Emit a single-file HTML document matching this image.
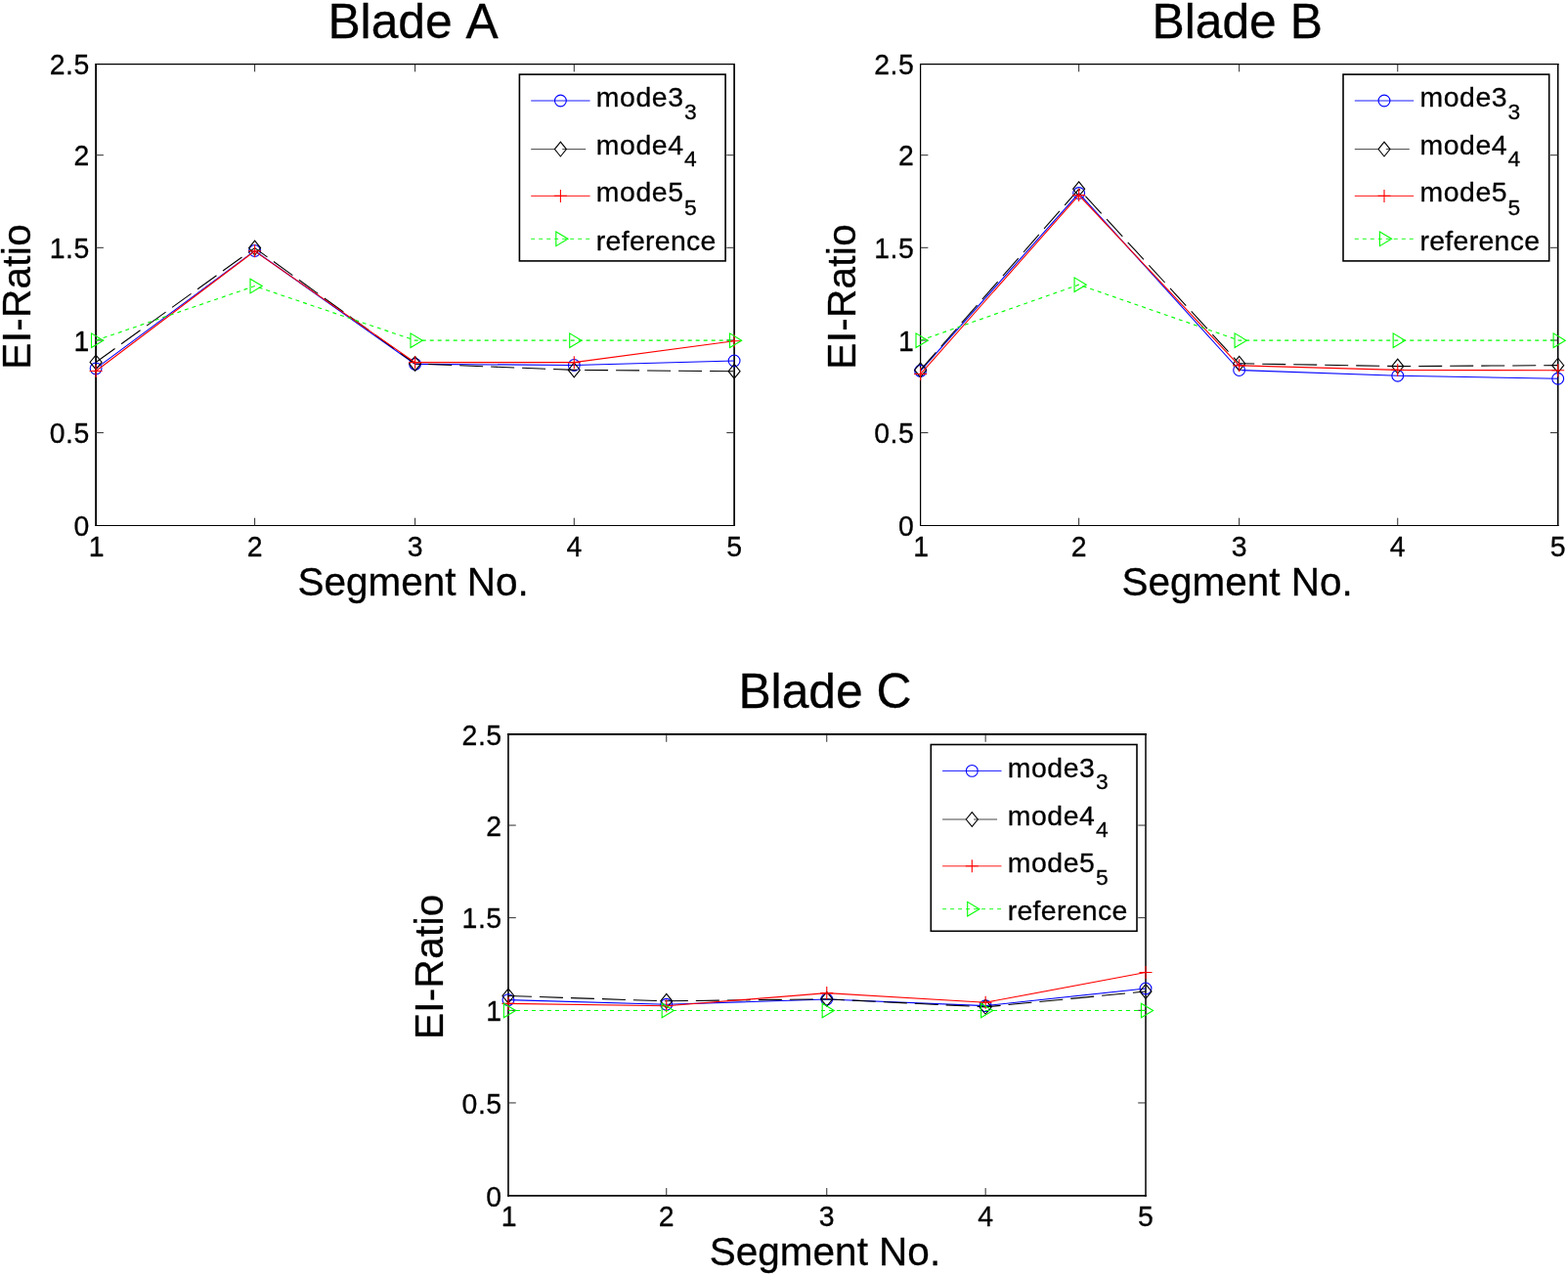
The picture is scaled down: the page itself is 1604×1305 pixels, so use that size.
<!DOCTYPE html>
<html lang="en">
<head>
<meta charset="utf-8">
<title>EI-Ratio per segment: Blade A, Blade B, Blade C</title>
<style>
html,body{margin:0;padding:0;background:#fff;}
body{width:1604px;height:1305px;overflow:hidden;}
svg{display:block;}
svg text{font-family:"Liberation Sans", Arial, Helvetica, sans-serif;fill:#000;stroke:#000;stroke-width:0.3px;stroke-linejoin:round;font-kerning:none;font-variant-ligatures:none;}
</style>
</head>
<body>
<svg width="1604" height="1305" viewBox="0 0 1604 1305">
<rect x="0" y="0" width="1604" height="1305" fill="#fff"/>
<g class="chart">
<text class="title" transform="translate(422.6 38.5) scale(1 1.020)" text-anchor="middle" font-size="49.8">Blade A</text>
<text class="xlabel" transform="translate(422.6 608.7) scale(1 1.010)" text-anchor="middle" font-size="40.5">Segment No.</text>
<text class="ylabel" transform="translate(31 303.35) rotate(-90) scale(1 1.010)" text-anchor="middle" font-size="40.5" letter-spacing="0.3">EI-Ratio</text>
<text transform="translate(98.7 569.1) scale(1 1.055)" text-anchor="middle" font-size="28.4">1</text>
<text transform="translate(260.6 569.1) scale(1 1.055)" text-anchor="middle" font-size="28.4">2</text>
<text transform="translate(424.6 569.1) scale(1 1.055)" text-anchor="middle" font-size="28.4">3</text>
<text transform="translate(587.3 569.1) scale(1 1.055)" text-anchor="middle" font-size="28.4">4</text>
<text transform="translate(751.1 569.1) scale(1 1.055)" text-anchor="middle" font-size="28.4">5</text>
<text transform="translate(91.3 548.2) scale(1 1.055)" text-anchor="end" font-size="28.4">0</text>
<text transform="translate(91.85 453.3) scale(1 1.055)" text-anchor="end" font-size="28.4" letter-spacing="0.55">0.5</text>
<text transform="translate(91.3 358.7) scale(1 1.055)" text-anchor="end" font-size="28.4">1</text>
<text transform="translate(91.85 264) scale(1 1.055)" text-anchor="end" font-size="28.4" letter-spacing="0.55">1.5</text>
<text transform="translate(91.3 169.4) scale(1 1.055)" text-anchor="end" font-size="28.4">2</text>
<text transform="translate(91.85 76.3) scale(1 1.055)" text-anchor="end" font-size="28.4" letter-spacing="0.55">2.5</text>
<path d="M98.1 64.97V538.08" fill="none" stroke="#000" stroke-width="1.8"/>
<path d="M751.1 64.97V538.08" fill="none" stroke="#000" stroke-width="1.7"/>
<path d="M97.2 65.6H751.95" fill="none" stroke="#000" stroke-width="1.25"/>
<path d="M97.2 537.5H751.95" fill="none" stroke="#000" stroke-width="1.15"/>
<path d="M260.6 537.5v-7.8M260.6 65.6v7.8M424.6 537.5v-7.8M424.6 65.6v7.8M587.3 537.5v-7.8M587.3 65.6v7.8M98.1 442.6h7.8M751.1 442.6h-7.8M98.1 348h7.8M751.1 348h-7.8M98.1 253.3h7.8M751.1 253.3h-7.8M98.1 158.7h7.8M751.1 158.7h-7.8" fill="none" stroke="#2b2b2b" stroke-width="1"/>
<path d="M98.1 376.87L260.6 256.44L424.6 372.34L587.3 373.47L751.1 368.94" fill="none" stroke="#0000ff" stroke-width="1.1"/>
<circle cx="98.1" cy="376.87" r="5.9" fill="none" stroke="#0000ff" stroke-width="1.1"/>
<circle cx="260.6" cy="256.44" r="5.9" fill="none" stroke="#0000ff" stroke-width="1.1"/>
<circle cx="424.6" cy="372.34" r="5.9" fill="none" stroke="#0000ff" stroke-width="1.1"/>
<circle cx="587.3" cy="373.47" r="5.9" fill="none" stroke="#0000ff" stroke-width="1.1"/>
<circle cx="751.1" cy="368.94" r="5.9" fill="none" stroke="#0000ff" stroke-width="1.1"/>
<path d="M98.1 370.45L260.6 253.6L424.6 371.96L587.3 378.38L751.1 379.7" fill="none" stroke="#000000" stroke-width="1.1" stroke-dasharray="24 8"/>
<path d="M98.1 363.05L104.1 370.45L98.1 377.85L92.1 370.45Z" fill="none" stroke="#000000" stroke-width="1.1"/>
<path d="M260.6 246.2L266.6 253.6L260.6 261L254.6 253.6Z" fill="none" stroke="#000000" stroke-width="1.1"/>
<path d="M424.6 364.56L430.6 371.96L424.6 379.36L418.6 371.96Z" fill="none" stroke="#000000" stroke-width="1.1"/>
<path d="M587.3 370.98L593.3 378.38L587.3 385.78L581.3 378.38Z" fill="none" stroke="#000000" stroke-width="1.1"/>
<path d="M751.1 372.3L757.1 379.7L751.1 387.1L745.1 379.7Z" fill="none" stroke="#000000" stroke-width="1.1"/>
<path d="M98.1 379.51L260.6 256.81L424.6 370.64L587.3 370.64L751.1 348.74" fill="none" stroke="#ff0000" stroke-width="1.1"/>
<path d="M91.6 379.51H104.6M98.1 373.01V386.01" fill="none" stroke="#ff0000" stroke-width="1.1"/>
<path d="M254.1 256.81H267.1M260.6 250.31V263.31" fill="none" stroke="#ff0000" stroke-width="1.1"/>
<path d="M418.1 370.64H431.1M424.6 364.14V377.14" fill="none" stroke="#ff0000" stroke-width="1.1"/>
<path d="M580.8 370.64H593.8M587.3 364.14V377.14" fill="none" stroke="#ff0000" stroke-width="1.1"/>
<path d="M744.6 348.74H757.6M751.1 342.24V355.24" fill="none" stroke="#ff0000" stroke-width="1.1"/>
<path d="M98.1 348.17L260.6 292.58L424.6 348.17L587.3 348.17L751.1 348.17" fill="none" stroke="#00ff00" stroke-width="1.1" stroke-dasharray="4 4"/>
<path d="M93.5 340.87L105.7 348.17L93.5 355.47Z" fill="none" stroke="#00ff00" stroke-width="1.1"/>
<path d="M256 285.28L268.2 292.58L256 299.88Z" fill="none" stroke="#00ff00" stroke-width="1.1"/>
<path d="M420 340.87L432.2 348.17L420 355.47Z" fill="none" stroke="#00ff00" stroke-width="1.1"/>
<path d="M582.7 340.87L594.9 348.17L582.7 355.47Z" fill="none" stroke="#00ff00" stroke-width="1.1"/>
<path d="M746.5 340.87L758.7 348.17L746.5 355.47Z" fill="none" stroke="#00ff00" stroke-width="1.1"/>
<rect x="531.4" y="76.1" width="210.7" height="190.8" fill="#fff" stroke="#000" stroke-width="1.6"/>
<path d="M543.2 103H603.6" fill="none" stroke="#0000ff" stroke-width="0.9"/>
<circle cx="573.4" cy="103" r="5.9" fill="none" stroke="#0000ff" stroke-width="1.1"/>
<text x="609.8" y="109.3" font-size="28.4" letter-spacing="0.6">mode3<tspan dx="0.4" dy="12.7" font-size="22.8">3</tspan></text>
<path d="M543.2 152.6H603.6" fill="none" stroke="#333" stroke-width="0.9" stroke-dasharray="24 8"/>
<path d="M573.4 145.2L579.4 152.6L573.4 160L567.4 152.6Z" fill="none" stroke="#000000" stroke-width="1.1"/>
<text x="609.8" y="158.1" font-size="28.4" letter-spacing="0.6">mode4<tspan dx="0.4" dy="12.3" font-size="22.8">4</tspan></text>
<path d="M543.2 200.4H603.6" fill="none" stroke="#ff0000" stroke-width="0.9"/>
<path d="M566.9 200.4H579.9M573.4 193.9V206.9" fill="none" stroke="#ff0000" stroke-width="1.1"/>
<text x="609.8" y="206.2" font-size="28.4" letter-spacing="0.6">mode5<tspan dx="0.4" dy="13.5" font-size="22.8">5</tspan></text>
<path d="M543.2 244.3H603.6" fill="none" stroke="#00ff00" stroke-width="0.9" stroke-dasharray="4 4"/>
<path d="M568.8 237L581 244.3L568.8 251.6Z" fill="none" stroke="#00ff00" stroke-width="1.1"/>
<text x="609.8" y="256" font-size="28.4" letter-spacing="0.33">reference</text>
</g>
<g class="chart">
<text class="title" transform="translate(1265.65 38.5) scale(1 1.020)" text-anchor="middle" font-size="49.8">Blade B</text>
<text class="xlabel" transform="translate(1265.65 608.7) scale(1 1.010)" text-anchor="middle" font-size="40.5">Segment No.</text>
<text class="ylabel" transform="translate(874.5 303.35) rotate(-90) scale(1 1.010)" text-anchor="middle" font-size="40.5" letter-spacing="0.3">EI-Ratio</text>
<text transform="translate(942.2 569.1) scale(1 1.055)" text-anchor="middle" font-size="28.4">1</text>
<text transform="translate(1103.65 569.1) scale(1 1.055)" text-anchor="middle" font-size="28.4">2</text>
<text transform="translate(1267.65 569.1) scale(1 1.055)" text-anchor="middle" font-size="28.4">3</text>
<text transform="translate(1429.75 569.1) scale(1 1.055)" text-anchor="middle" font-size="28.4">4</text>
<text transform="translate(1593.7 569.1) scale(1 1.055)" text-anchor="middle" font-size="28.4">5</text>
<text transform="translate(934.8 548.2) scale(1 1.055)" text-anchor="end" font-size="28.4">0</text>
<text transform="translate(935.35 453.3) scale(1 1.055)" text-anchor="end" font-size="28.4" letter-spacing="0.55">0.5</text>
<text transform="translate(934.8 358.7) scale(1 1.055)" text-anchor="end" font-size="28.4">1</text>
<text transform="translate(935.35 264) scale(1 1.055)" text-anchor="end" font-size="28.4" letter-spacing="0.55">1.5</text>
<text transform="translate(934.8 169.4) scale(1 1.055)" text-anchor="end" font-size="28.4">2</text>
<text transform="translate(935.35 76.3) scale(1 1.055)" text-anchor="end" font-size="28.4" letter-spacing="0.55">2.5</text>
<path d="M941.6 64.97V538.08" fill="none" stroke="#000" stroke-width="1.25"/>
<path d="M1593.7 64.97V538.08" fill="none" stroke="#000" stroke-width="1.6"/>
<path d="M940.98 65.6H1594.5" fill="none" stroke="#000" stroke-width="1.25"/>
<path d="M940.98 537.5H1594.5" fill="none" stroke="#000" stroke-width="1.15"/>
<path d="M1103.65 537.5v-7.8M1103.65 65.6v7.8M1267.65 537.5v-7.8M1267.65 65.6v7.8M1429.75 537.5v-7.8M1429.75 65.6v7.8M941.6 442.6h7.8M1593.7 442.6h-7.8M941.6 348h7.8M1593.7 348h-7.8M941.6 253.3h7.8M1593.7 253.3h-7.8M941.6 158.7h7.8M1593.7 158.7h-7.8" fill="none" stroke="#2b2b2b" stroke-width="1"/>
<path d="M941.6 379.32L1103.65 197.54L1267.65 378.56L1429.75 384.23L1593.7 387.25" fill="none" stroke="#0000ff" stroke-width="1.1"/>
<circle cx="941.6" cy="379.32" r="5.9" fill="none" stroke="#0000ff" stroke-width="1.1"/>
<circle cx="1103.65" cy="197.54" r="5.9" fill="none" stroke="#0000ff" stroke-width="1.1"/>
<circle cx="1267.65" cy="378.56" r="5.9" fill="none" stroke="#0000ff" stroke-width="1.1"/>
<circle cx="1429.75" cy="384.23" r="5.9" fill="none" stroke="#0000ff" stroke-width="1.1"/>
<circle cx="1593.7" cy="387.25" r="5.9" fill="none" stroke="#0000ff" stroke-width="1.1"/>
<path d="M941.6 378.38L1103.65 193.28L1267.65 371.77L1429.75 374.6L1593.7 373.66" fill="none" stroke="#000000" stroke-width="1.1" stroke-dasharray="24 8"/>
<path d="M941.6 370.98L947.6 378.38L941.6 385.78L935.6 378.38Z" fill="none" stroke="#000000" stroke-width="1.1"/>
<path d="M1103.65 185.88L1109.65 193.28L1103.65 200.68L1097.65 193.28Z" fill="none" stroke="#000000" stroke-width="1.1"/>
<path d="M1267.65 364.37L1273.65 371.77L1267.65 379.17L1261.65 371.77Z" fill="none" stroke="#000000" stroke-width="1.1"/>
<path d="M1429.75 367.2L1435.75 374.6L1429.75 382L1423.75 374.6Z" fill="none" stroke="#000000" stroke-width="1.1"/>
<path d="M1593.7 366.26L1599.7 373.66L1593.7 381.06L1587.7 373.66Z" fill="none" stroke="#000000" stroke-width="1.1"/>
<path d="M941.6 382.53L1103.65 199.62L1267.65 373.85L1429.75 378.38L1593.7 378.75" fill="none" stroke="#ff0000" stroke-width="1.1"/>
<path d="M935.1 382.53H948.1M941.6 376.03V389.03" fill="none" stroke="#ff0000" stroke-width="1.1"/>
<path d="M1097.15 199.62H1110.15M1103.65 193.12V206.12" fill="none" stroke="#ff0000" stroke-width="1.1"/>
<path d="M1261.15 373.85H1274.15M1267.65 367.35V380.35" fill="none" stroke="#ff0000" stroke-width="1.1"/>
<path d="M1423.25 378.38H1436.25M1429.75 371.88V384.88" fill="none" stroke="#ff0000" stroke-width="1.1"/>
<path d="M1587.2 378.75H1600.2M1593.7 372.25V385.25" fill="none" stroke="#ff0000" stroke-width="1.1"/>
<path d="M941.6 348.17L1103.65 291.17L1267.65 348.17L1429.75 348.17L1593.7 348.17" fill="none" stroke="#00ff00" stroke-width="1.1" stroke-dasharray="4 4"/>
<path d="M937 340.87L949.2 348.17L937 355.47Z" fill="none" stroke="#00ff00" stroke-width="1.1"/>
<path d="M1099.05 283.87L1111.25 291.17L1099.05 298.47Z" fill="none" stroke="#00ff00" stroke-width="1.1"/>
<path d="M1263.05 340.87L1275.25 348.17L1263.05 355.47Z" fill="none" stroke="#00ff00" stroke-width="1.1"/>
<path d="M1425.15 340.87L1437.35 348.17L1425.15 355.47Z" fill="none" stroke="#00ff00" stroke-width="1.1"/>
<path d="M1589.1 340.87L1601.3 348.17L1589.1 355.47Z" fill="none" stroke="#00ff00" stroke-width="1.1"/>
<rect x="1374" y="76.1" width="210.7" height="190.8" fill="#fff" stroke="#000" stroke-width="1.6"/>
<path d="M1385.8 103H1446.2" fill="none" stroke="#0000ff" stroke-width="0.9"/>
<circle cx="1416" cy="103" r="5.9" fill="none" stroke="#0000ff" stroke-width="1.1"/>
<text x="1452.4" y="109.3" font-size="28.4" letter-spacing="0.6">mode3<tspan dx="0.4" dy="12.7" font-size="22.8">3</tspan></text>
<path d="M1385.8 152.6H1446.2" fill="none" stroke="#333" stroke-width="0.9" stroke-dasharray="24 8"/>
<path d="M1416 145.2L1422 152.6L1416 160L1410 152.6Z" fill="none" stroke="#000000" stroke-width="1.1"/>
<text x="1452.4" y="158.1" font-size="28.4" letter-spacing="0.6">mode4<tspan dx="0.4" dy="12.3" font-size="22.8">4</tspan></text>
<path d="M1385.8 200.4H1446.2" fill="none" stroke="#ff0000" stroke-width="0.9"/>
<path d="M1409.5 200.4H1422.5M1416 193.9V206.9" fill="none" stroke="#ff0000" stroke-width="1.1"/>
<text x="1452.4" y="206.2" font-size="28.4" letter-spacing="0.6">mode5<tspan dx="0.4" dy="13.5" font-size="22.8">5</tspan></text>
<path d="M1385.8 244.3H1446.2" fill="none" stroke="#00ff00" stroke-width="0.9" stroke-dasharray="4 4"/>
<path d="M1411.4 237L1423.6 244.3L1411.4 251.6Z" fill="none" stroke="#00ff00" stroke-width="1.1"/>
<text x="1452.4" y="256" font-size="28.4" letter-spacing="0.33">reference</text>
</g>
<g class="chart">
<text class="title" transform="translate(843.98 723.9) scale(1 1.020)" text-anchor="middle" font-size="49.8">Blade C</text>
<text class="xlabel" transform="translate(843.98 1294.05) scale(1 1.010)" text-anchor="middle" font-size="40.5">Segment No.</text>
<text class="ylabel" transform="translate(452.85 988.72) rotate(-90) scale(1 1.010)" text-anchor="middle" font-size="40.5" letter-spacing="0.3">EI-Ratio</text>
<text transform="translate(520.55 1254.45) scale(1 1.055)" text-anchor="middle" font-size="28.4">1</text>
<text transform="translate(681.75 1254.45) scale(1 1.055)" text-anchor="middle" font-size="28.4">2</text>
<text transform="translate(845.75 1254.45) scale(1 1.055)" text-anchor="middle" font-size="28.4">3</text>
<text transform="translate(1008.15 1254.45) scale(1 1.055)" text-anchor="middle" font-size="28.4">4</text>
<text transform="translate(1172 1254.45) scale(1 1.055)" text-anchor="middle" font-size="28.4">5</text>
<text transform="translate(513.15 1233.55) scale(1 1.055)" text-anchor="end" font-size="28.4">0</text>
<text transform="translate(513.7 1138.65) scale(1 1.055)" text-anchor="end" font-size="28.4" letter-spacing="0.55">0.5</text>
<text transform="translate(513.15 1044.05) scale(1 1.055)" text-anchor="end" font-size="28.4">1</text>
<text transform="translate(513.7 949.35) scale(1 1.055)" text-anchor="end" font-size="28.4" letter-spacing="0.55">1.5</text>
<text transform="translate(513.15 854.75) scale(1 1.055)" text-anchor="end" font-size="28.4">2</text>
<text transform="translate(513.7 761.7) scale(1 1.055)" text-anchor="end" font-size="28.4" letter-spacing="0.55">2.5</text>
<path d="M519.95 750.1V1223.7" fill="none" stroke="#000" stroke-width="1.6"/>
<path d="M1172 750.1V1223.7" fill="none" stroke="#000" stroke-width="1.5"/>
<path d="M519.15 751H1172.75" fill="none" stroke="#000" stroke-width="1.8"/>
<path d="M519.15 1222.85H1172.75" fill="none" stroke="#000" stroke-width="1.7"/>
<path d="M681.75 1222.85v-7.8M681.75 751v7.8M845.75 1222.85v-7.8M845.75 751v7.8M1008.15 1222.85v-7.8M1008.15 751v7.8M519.95 1127.95h7.8M1172 1127.95h-7.8M519.95 1033.35h7.8M1172 1033.35h-7.8M519.95 938.65h7.8M1172 938.65h-7.8M519.95 844.05h7.8M1172 844.05h-7.8" fill="none" stroke="#2b2b2b" stroke-width="1"/>
<path d="M519.95 1022.58L681.75 1027.29L845.75 1022.01L1008.15 1028.62L1172 1010.95" fill="none" stroke="#0000ff" stroke-width="1.1"/>
<circle cx="519.95" cy="1022.58" r="5.9" fill="none" stroke="#0000ff" stroke-width="1.1"/>
<circle cx="681.75" cy="1027.29" r="5.9" fill="none" stroke="#0000ff" stroke-width="1.1"/>
<circle cx="845.75" cy="1022.01" r="5.9" fill="none" stroke="#0000ff" stroke-width="1.1"/>
<circle cx="1008.15" cy="1028.62" r="5.9" fill="none" stroke="#0000ff" stroke-width="1.1"/>
<circle cx="1172" cy="1010.95" r="5.9" fill="none" stroke="#0000ff" stroke-width="1.1"/>
<path d="M519.95 1018.5L681.75 1023.8L845.75 1021.82L1008.15 1029.84L1172 1013.97" fill="none" stroke="#000000" stroke-width="1.1" stroke-dasharray="24 8"/>
<path d="M519.95 1011.1L525.95 1018.5L519.95 1025.9L513.95 1018.5Z" fill="none" stroke="#000000" stroke-width="1.1"/>
<path d="M681.75 1016.4L687.75 1023.8L681.75 1031.2L675.75 1023.8Z" fill="none" stroke="#000000" stroke-width="1.1"/>
<path d="M845.75 1014.42L851.75 1021.82L845.75 1029.22L839.75 1021.82Z" fill="none" stroke="#000000" stroke-width="1.1"/>
<path d="M1008.15 1022.44L1014.15 1029.84L1008.15 1037.24L1002.15 1029.84Z" fill="none" stroke="#000000" stroke-width="1.1"/>
<path d="M1172 1006.57L1178 1013.97L1172 1021.37L1166 1013.97Z" fill="none" stroke="#000000" stroke-width="1.1"/>
<path d="M519.95 1026.35L681.75 1028.8L845.75 1015.59L1008.15 1025.27L1172 994.51" fill="none" stroke="#ff0000" stroke-width="1.1"/>
<path d="M513.45 1026.35H526.45M519.95 1019.85V1032.85" fill="none" stroke="#ff0000" stroke-width="1.1"/>
<path d="M675.25 1028.8H688.25M681.75 1022.3V1035.3" fill="none" stroke="#ff0000" stroke-width="1.1"/>
<path d="M839.25 1015.59H852.25M845.75 1009.09V1022.09" fill="none" stroke="#ff0000" stroke-width="1.1"/>
<path d="M1001.65 1025.27H1014.65M1008.15 1018.77V1031.77" fill="none" stroke="#ff0000" stroke-width="1.1"/>
<path d="M1165.5 994.51H1178.5M1172 988.01V1001.01" fill="none" stroke="#ff0000" stroke-width="1.1"/>
<path d="M519.95 1033.52L681.75 1033.52L845.75 1033.52L1008.15 1033.52L1172 1033.52" fill="none" stroke="#00ff00" stroke-width="1.1" stroke-dasharray="4 4"/>
<path d="M515.35 1026.22L527.55 1033.52L515.35 1040.82Z" fill="none" stroke="#00ff00" stroke-width="1.1"/>
<path d="M677.15 1026.22L689.35 1033.52L677.15 1040.82Z" fill="none" stroke="#00ff00" stroke-width="1.1"/>
<path d="M841.15 1026.22L853.35 1033.52L841.15 1040.82Z" fill="none" stroke="#00ff00" stroke-width="1.1"/>
<path d="M1003.55 1026.22L1015.75 1033.52L1003.55 1040.82Z" fill="none" stroke="#00ff00" stroke-width="1.1"/>
<path d="M1167.4 1026.22L1179.6 1033.52L1167.4 1040.82Z" fill="none" stroke="#00ff00" stroke-width="1.1"/>
<rect x="952.3" y="761.5" width="210.7" height="190.8" fill="#fff" stroke="#000" stroke-width="1.6"/>
<path d="M964.1 788.4H1024.5" fill="none" stroke="#0000ff" stroke-width="0.9"/>
<circle cx="994.3" cy="788.4" r="5.9" fill="none" stroke="#0000ff" stroke-width="1.1"/>
<text x="1030.7" y="794.7" font-size="28.4" letter-spacing="0.6">mode3<tspan dx="0.4" dy="12.7" font-size="22.8">3</tspan></text>
<path d="M964.1 838H1024.5" fill="none" stroke="#333" stroke-width="0.9" stroke-dasharray="24 8"/>
<path d="M994.3 830.6L1000.3 838L994.3 845.4L988.3 838Z" fill="none" stroke="#000000" stroke-width="1.1"/>
<text x="1030.7" y="843.5" font-size="28.4" letter-spacing="0.6">mode4<tspan dx="0.4" dy="12.3" font-size="22.8">4</tspan></text>
<path d="M964.1 885.8H1024.5" fill="none" stroke="#ff0000" stroke-width="0.9"/>
<path d="M987.8 885.8H1000.8M994.3 879.3V892.3" fill="none" stroke="#ff0000" stroke-width="1.1"/>
<text x="1030.7" y="891.6" font-size="28.4" letter-spacing="0.6">mode5<tspan dx="0.4" dy="13.5" font-size="22.8">5</tspan></text>
<path d="M964.1 929.7H1024.5" fill="none" stroke="#00ff00" stroke-width="0.9" stroke-dasharray="4 4"/>
<path d="M989.7 922.4L1001.9 929.7L989.7 937Z" fill="none" stroke="#00ff00" stroke-width="1.1"/>
<text x="1030.7" y="941.4" font-size="28.4" letter-spacing="0.33">reference</text>
</g>
</svg>
</body>
</html>
